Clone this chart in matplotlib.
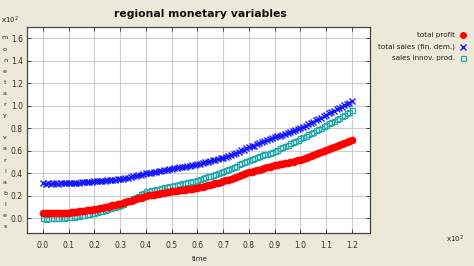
import numpy as np
import matplotlib
matplotlib.use("Agg")
import matplotlib.pyplot as plt

time = np.arange(0, 121)  # time steps (axis shows x10^2)

total_profit = [.050,.049,.050,.051,.050,.049,.050,.051,.050,.050,
                .050,.053,.056,.058,.062,.065,.067,.071,.074,.077,
                .080,.085,.089,.095,.100,.104,.110,.115,.119,.125,
                .130,.137,.143,.151,.158,.164,.172,.179,.185,.193,
                .200,.204,.207,.212,.216,.219,.224,.228,.231,.236,
                .240,.243,.245,.249,.252,.254,.258,.261,.263,.267,
                .270,.276,.281,.288,.294,.299,.306,.312,.317,.324,
                .330,.338,.345,.354,.362,.369,.378,.386,.393,.402,
                .410,.416,.421,.428,.434,.439,.446,.452,.457,.464,
                .470,.475,.479,.485,.490,.494,.500,.505,.509,.515,
                .520,.529,.537,.547,.556,.564,.574,.583,.591,.601,
                .610,.619,.627,.637,.646,.654,.664,.673,.681,.691,.700]

total_sales = [.310,.308,.311,.309,.310,.312,.309,.311,.310,.312,
               .311,.313,.315,.316,.318,.320,.321,.323,.325,.327,
               .330,.331,.333,.334,.336,.338,.340,.342,.344,.347,
               .350,.354,.358,.362,.367,.372,.377,.382,.387,.393,
               .400,.404,.407,.412,.416,.419,.424,.428,.431,.436,
               .440,.444,.447,.452,.456,.459,.464,.468,.471,.476,
               .480,.486,.491,.498,.504,.509,.516,.522,.527,.534,
               .540,.549,.557,.567,.576,.584,.594,.603,.611,.621,
               .630,.639,.647,.657,.666,.674,.684,.693,.701,.711,
               .720,.728,.735,.744,.752,.759,.768,.776,.783,.792,
               .800,.812,.823,.836,.848,.859,.872,.884,.895,.908,
               .920,.932,.943,.956,.968,.979,.992,1.004,1.015,1.028,1.040]

sales_innov = [.000,-.002,.001,.000,.002,.003,.004,.005,.007,.008,
               .010,.013,.016,.020,.024,.028,.032,.037,.041,.045,
               .050,.056,.062,.069,.076,.083,.090,.098,.105,.112,
               .120,.131,.142,.154,.166,.178,.190,.203,.216,.228,
               .240,.245,.249,.255,.260,.264,.270,.275,.279,.285,
               .290,.295,.299,.305,.310,.314,.320,.325,.329,.335,
               .340,.348,.355,.364,.372,.379,.388,.396,.403,.412,
               .420,.430,.439,.450,.460,.469,.480,.490,.499,.510,
               .520,.528,.535,.544,.552,.559,.568,.576,.583,.592,
               .600,.611,.621,.633,.644,.654,.666,.677,.687,.699,
               .710,.722,.733,.746,.758,.769,.782,.794,.805,.818,
               .830,.843,.855,.869,.882,.894,.908,.921,.933,.947,.960]

xticks = [0.0, 0.1, 0.2, 0.3, 0.4, 0.5, 0.6, 0.7, 0.8, 0.9, 1.0, 1.1, 1.2]
yticks = [0.0, 0.2, 0.4, 0.6, 0.8, 1.0, 1.2, 1.4, 1.6]
legend_labels = ["total profit", "total sales (fin. dem.)", "sales innov. prod."]

W, H = 474, 266
bg = "#ECE9D8"
red, blue, cyan = "#FF0000", "#1414FF", "#22AAAA"
fig = plt.figure(figsize=(W/100, H/100), dpi=100, facecolor=bg)
ax = fig.add_axes([27/W, 1-233/H, (370-27)/W, (233-27)/H])
ax.set_facecolor("white")

t = np.asarray(time) / 100.0
ax.plot(t, sales_innov, linestyle="none", marker="s", ms=3.6, mfc="none",
        mec=cyan, mew=0.9, zorder=3)
ax.plot(t, total_profit, linestyle="none", marker="o", ms=5.0, mfc=red,
        mec=red, mew=0.5, zorder=4)
ax.plot(t, total_sales, linestyle="none", marker="x", ms=4.0, mec=blue,
        mew=1.0, zorder=5)

ax.set_xlim(-0.062, 1.27)
ax.set_ylim(-0.13, 1.70)
ax.set_xticks(xticks)
ax.set_yticks(yticks)
ax.set_xticklabels([f"{v:.1f}" for v in xticks], fontsize=5.5, color="#333333")
ax.set_yticklabels([f"{v:.1f}" for v in yticks], fontsize=5.5, color="#333333")
ax.tick_params(direction="in", length=3, width=0.6, top=True, right=True,
               labeltop=False, labelright=False, color="#333333")
ax.tick_params(axis="x", pad=6)
ax.tick_params(axis="y", pad=3)
ax.grid(True, color="#CCCCCC", linewidth=0.8)
ax.set_axisbelow(True)
for s in ax.spines.values():
    s.set_color("#444444")
    s.set_linewidth(0.9)

fig.text(200/W, 1-14/H, "regional monetary variables", fontsize=7.8,
         fontweight="bold", ha="center", va="center", color="#111111")
fig.text(200/W, 1-259/H, "time", fontsize=5, ha="center", va="center",
         color="#222222")
fig.text(1/W, 1-20/H, r"x10$^{2}$", fontsize=5, ha="left", va="center",
         color="#222222")
fig.text(455/W, 1-239/H, r"x10$^{2}$", fontsize=5, ha="center", va="center",
         color="#222222")

ylabel = "monetary variables"
y0, step = 38, 11.1
for i, ch in enumerate(ylabel):
    if ch != " ":
        fig.text(5/W, 1-(y0+i*step)/H, ch, fontsize=4.6, ha="center",
                 va="center", color="#222222")

leg_y = [35, 47, 58]
styles = [dict(marker="o", ms=4, mfc=red, mec=red),
          dict(marker="x", ms=4, mec=blue, mew=1.0),
          dict(marker="s", ms=3.6, mfc="none", mec=cyan, mew=0.9)]
for lab, yy, st in zip(legend_labels, leg_y, styles):
    fig.text(455/W, 1-yy/H, lab, fontsize=5.2, ha="right", va="center",
             color="#222222")
    fig.add_artist(plt.Line2D([463/W], [1-yy/H], linestyle="none",
                              transform=fig.transFigure, **st))

fig.savefig("out.png", dpi=100, facecolor=bg)
